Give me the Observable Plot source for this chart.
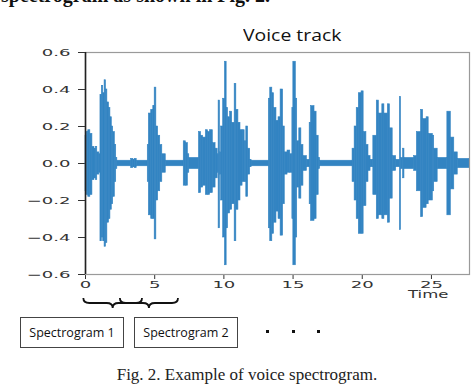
<!DOCTYPE html>
<html><head><meta charset="utf-8">
<script src="https://cdn.jsdelivr.net/npm/d3@7"></script>
<script src="https://cdn.jsdelivr.net/npm/@observablehq/plot@0.6"></script>
<style>
body{margin:0;background:#fff;}
#wrap{position:relative;width:474px;height:387px;overflow:hidden;background:#fff;}
#lead{position:absolute;left:1px;top:-16px;font:bold 20px "Liberation Serif",serif;color:#111;white-space:nowrap;}
#title{position:absolute;left:243px;top:23px;font:17px "Open Sans",sans-serif;color:#111;white-space:nowrap;transform:scaleX(1.14);transform-origin:left;}
#chart{position:absolute;left:0;top:0;}
#xlabel{position:absolute;left:408px;top:289px;font:10px "DejaVu Sans",sans-serif;color:#333;transform:scaleX(1.65);transform-origin:left;}
.box{position:absolute;top:317px;height:31px;border:1.5px solid #444;font:12.5px "Open Sans",sans-serif;color:#111;display:flex;align-items:center;justify-content:center;box-sizing:border-box;}
.dot{position:absolute;top:330px;width:3px;height:3px;background:#111;}
#caption{position:absolute;left:0;width:494px;top:365px;text-align:center;font:17px "Liberation Serif",serif;color:#222;}
#braces{position:absolute;left:0;top:0;}
</style></head>
<body><div id="wrap">
<div id="lead">spectrogram as shown in Fig. 2.</div>
<div id="title">Voice track</div>
<div id="chart"></div>
<div id="xlabel">Time</div>
<svg id="braces" width="474" height="387"></svg>
<div id="boxes"></div>
<div id="caption">Fig. 2. Example of voice spectrogram.</div>
</div>
<script>
// Envelope of the voice track: segment start time, upper and lower amplitude
const segT = [0.00,0.08,0.20,0.35,0.50,0.65,0.75,0.85,1.00,1.08,1.18,1.28,1.38,1.48,1.58,1.70,1.80,1.90,2.00,2.12,2.22,2.30,3.30,3.45,3.55,3.70,4.50,4.58,4.75,4.90,5.00,5.12,5.25,5.40,5.55,5.80,7.10,7.25,7.40,7.50,8.20,8.35,8.50,8.70,8.85,9.00,9.20,9.40,9.55,9.62,9.72,9.80,9.95,10.08,10.20,10.30,10.45,10.60,10.78,10.90,11.05,11.20,11.35,11.50,11.62,11.75,11.90,12.00,13.25,13.35,13.50,13.62,13.80,13.95,14.10,14.28,14.40,14.60,14.80,14.95,15.02,15.20,15.30,15.45,15.60,15.75,16.00,16.20,16.30,16.55,16.70,16.85,16.95,19.30,19.45,19.60,19.75,19.95,20.10,20.30,20.45,20.60,20.80,21.05,21.20,21.45,21.60,21.85,22.00,22.20,22.45,22.72,22.80,22.95,23.05,23.75,23.95,24.25,24.40,24.65,24.80,25.10,25.20,25.45,26.15,26.40,26.65,26.90];
const segHi = [0.15,0.17,0.18,0.16,0.09,0.08,0.09,0.06,0.05,0.37,0.42,0.38,0.45,0.40,0.33,0.30,0.25,0.20,0.17,0.10,0.03,0.015,0.025,0.02,0.025,0.015,0.10,0.27,0.29,0.31,0.41,0.20,0.15,0.10,0.05,0.015,0.12,0.11,0.05,0.03,0.17,0.15,0.14,0.18,0.17,0.18,0.11,0.08,0.05,0.34,0.06,0.20,0.35,0.55,0.30,0.25,0.28,0.22,0.43,0.29,0.22,0.18,0.18,0.12,0.20,0.08,0.02,0.015,0.35,0.41,0.38,0.30,0.23,0.25,0.40,0.20,0.06,0.07,0.05,0.30,0.55,0.35,0.12,0.19,0.10,0.04,0.02,0.22,0.31,0.28,0.15,0.03,0.015,0.08,0.20,0.30,0.38,0.39,0.17,0.10,0.04,0.02,0.15,0.34,0.27,0.32,0.27,0.32,0.19,0.04,0.02,0.36,0.03,0.08,0.03,0.04,0.17,0.29,0.24,0.25,0.16,0.15,0.08,0.03,0.28,0.14,0.06,0.025];
const segLo = [-0.15,-0.17,-0.18,-0.17,-0.09,-0.08,-0.09,-0.06,-0.05,-0.42,-0.40,-0.42,-0.45,-0.43,-0.32,-0.30,-0.25,-0.22,-0.18,-0.10,-0.03,-0.015,-0.025,-0.02,-0.025,-0.015,-0.10,-0.28,-0.30,-0.30,-0.41,-0.20,-0.15,-0.10,-0.05,-0.015,-0.12,-0.12,-0.05,-0.03,-0.16,-0.13,-0.12,-0.17,-0.17,-0.16,-0.13,-0.08,-0.05,-0.35,-0.06,-0.20,-0.40,-0.55,-0.35,-0.27,-0.25,-0.22,-0.42,-0.25,-0.20,-0.12,-0.10,-0.10,-0.18,-0.06,-0.02,-0.015,-0.35,-0.42,-0.38,-0.32,-0.26,-0.30,-0.39,-0.22,-0.06,-0.05,-0.05,-0.30,-0.55,-0.40,-0.13,-0.19,-0.12,-0.04,-0.02,-0.22,-0.31,-0.30,-0.17,-0.03,-0.015,-0.10,-0.20,-0.30,-0.38,-0.38,-0.23,-0.10,-0.04,-0.02,-0.17,-0.30,-0.28,-0.30,-0.28,-0.32,-0.19,-0.04,-0.02,-0.36,-0.03,-0.08,-0.03,-0.04,-0.15,-0.29,-0.24,-0.22,-0.20,-0.15,-0.10,-0.03,-0.28,-0.14,-0.06,-0.025];
const tEnd = 27.75;
const xTicks = [0,5,10,15,20,25];
const yTicks = [-0.6,-0.4,-0.2,0.0,0.2,0.4,0.6];
// Spectrogram windows (time ranges) and their labels
const braceFrom = [-0.12, 2.52];
const braceTo = [4.12, 6.72];
const boxLabels = ["Spectrogram 1","Spectrogram 2"];

const segs = segT.map((t,i)=>({t0:t, t1: i+1<segT.length ? segT[i+1] : tEnd, hi: segHi[i], lo: segLo[i]}));
const blue = "#3384c2";

const plot = Plot.plot({
  width: 474, height: 300,
  marginLeft: 85, marginRight: 5, marginTop: 52, marginBottom: 26,
  style: {fontFamily: "DejaVu Sans, sans-serif", fontSize: "9.5px", color: "#333", background: "transparent"},
  x: {domain: [0, tEnd], ticks: xTicks, tickFormat: d3.format("d"), tickSize: 5, tickPadding: 2, label: null},
  y: {domain: [-0.6, 0.6], ticks: yTicks, tickFormat: d3.format(".1f"), tickSize: 7, tickPadding: 8, label: null},
  marks: [
    Plot.rect(segs, {x1: "t0", x2: "t1", y1: "lo", y2: "hi", fill: blue, stroke: blue, strokeWidth: 0.6}),
    Plot.frame({stroke: "#9a9a9a", strokeWidth: 1.2}),
    Plot.ruleX([0], {stroke: "#222", strokeWidth: 1.6})
  ]
});
document.getElementById("chart").appendChild(plot);

// widen the tick labels like the reference (horizontally stretched glyphs)
plot.querySelectorAll("g[aria-label='y-axis tick label'] text, g[aria-label='y-axis'] text, g[aria-label='x-axis tick label'] text, g[aria-label='x-axis'] text").forEach(t=>{
  const L = t.getComputedTextLength();
  if (L > 0) { t.setAttribute("textLength", (L*1.9).toFixed(1)); t.setAttribute("lengthAdjust", "spacingAndGlyphs"); }
});

const sx = plot.scale("x");
const bsvg = d3.select("#braces");
const y0 = 298, y1 = 303, y2 = 308, r = 6;
braceFrom.forEach((a,i)=>{
  const x1 = sx.apply(a), x2 = sx.apply(braceTo[i]), m = (x1+x2)/2;
  const p = `M${x1},${y0} Q${x1},${y1} ${x1+r},${y1} L${m-r},${y1} Q${m},${y1} ${m},${y2} Q${m},${y1} ${m+r},${y1} L${x2-r},${y1} Q${x2},${y1} ${x2},${y0}`;
  bsvg.append("path").attr("d", p).attr("fill","none").attr("stroke","#111").attr("stroke-width",1.8);
});

const boxes = document.getElementById("boxes");
const boxLeft = [20, 134], boxW = 104;
boxLabels.forEach((s,i)=>{
  const d = document.createElement("div");
  d.className = "box"; d.style.left = boxLeft[i]+"px"; d.style.width = boxW+"px"; d.textContent = s;
  boxes.appendChild(d);
});
[266, 292, 317].forEach(x=>{
  const d = document.createElement("div"); d.className="dot"; d.style.left = x+"px"; boxes.appendChild(d);
});
</script>
</body></html>
